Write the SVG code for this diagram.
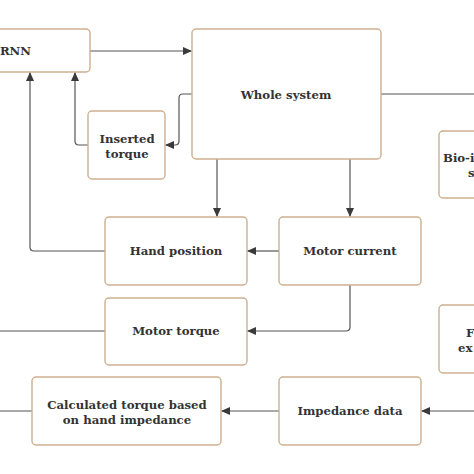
<svg xmlns="http://www.w3.org/2000/svg" width="474" height="474" viewBox="0 0 474 474">
<defs>
<marker id="arr" markerWidth="9" markerHeight="8" refX="8.5" refY="4" orient="auto" markerUnits="userSpaceOnUse">
<path d="M0,0 L9,4 L0,8 z" fill="#3a3a3a"/>
</marker>
<style>
.box{fill:#fff;stroke:#cdb08f;stroke-width:1.4}
.lbl{font-family:"DejaVu Serif","Liberation Serif",serif;font-weight:bold;font-size:11.7px;fill:#333;text-anchor:middle}
.st{text-anchor:start}
.en{text-anchor:end}
.ln{fill:none;stroke:#555;stroke-width:1.2}
</style>
</defs>
<rect width="474" height="474" fill="#fff"/>
<g id="connectors">
<path class="ln" d="M90,51 H191.5" marker-end="url(#arr)"/>
<path class="ln" d="M192,94 H183 Q179,94 179,98 V141 Q179,145 175,145 H165.5" marker-end="url(#arr)"/>
<path class="ln" d="M88,145 H79 Q75,145 75,141 V72.5" marker-end="url(#arr)"/>
<path class="ln" d="M105,251 H34 Q30,251 30,247 V72.5" marker-end="url(#arr)"/>
<path class="ln" d="M217,159 V216.5" marker-end="url(#arr)"/>
<path class="ln" d="M350,159 V216.5" marker-end="url(#arr)"/>
<path class="ln" d="M279,251 H247.5" marker-end="url(#arr)"/>
<path class="ln" d="M350,285 V327 Q350,331 346,331 H247.5" marker-end="url(#arr)"/>
<path class="ln" d="M105,331 H-5"/>
<path class="ln" d="M32,411 H-5"/>
<path class="ln" d="M279,411 H221.5" marker-end="url(#arr)"/>
<path class="ln" d="M480,411 H421.5" marker-end="url(#arr)"/>
<path class="ln" d="M381,94 H480"/>
</g>
<g id="ernn"><rect class="box" x="-60" y="29" width="150" height="43" rx="4"/><text class="lbl en" x="31" y="55">ERNN</text></g>
<g id="whole"><rect class="box" x="192" y="29" width="189" height="130" rx="4"/><text class="lbl" x="286" y="99">Whole system</text></g>
<g id="inserted"><rect class="box" x="88" y="111" width="77" height="68" rx="4"/><text class="lbl" x="127" y="143">Inserted</text><text class="lbl" x="127" y="157.5">torque</text></g>
<g id="handpos"><rect class="box" x="105" y="217" width="142" height="68" rx="4"/><text class="lbl" x="176" y="255">Hand position</text></g>
<g id="motorcur"><rect class="box" x="279" y="217" width="142" height="68" rx="4"/><text class="lbl" x="350" y="255">Motor current</text></g>
<g id="motortq"><rect class="box" x="105" y="298" width="142" height="67" rx="4"/><text class="lbl" x="176" y="335">Motor torque</text></g>
<g id="calc"><rect class="box" x="32" y="377" width="189" height="68" rx="4"/><text class="lbl" x="127" y="409">Calculated torque based</text><text class="lbl" x="127" y="424">on hand impedance</text></g>
<g id="imped"><rect class="box" x="279" y="377" width="142" height="68" rx="4"/><text class="lbl" x="350" y="415">Impedance data</text></g>
<g id="bio"><rect class="box" x="439" y="131" width="100" height="67" rx="4"/><text class="lbl st" x="443" y="162">Bio-i</text><text class="lbl st" x="468" y="177">s</text></g>
<g id="fex"><rect class="box" x="439" y="305" width="100" height="68" rx="4"/><text class="lbl st" x="466" y="337">F</text><text class="lbl st" x="458" y="352">ex</text></g>
</svg>
